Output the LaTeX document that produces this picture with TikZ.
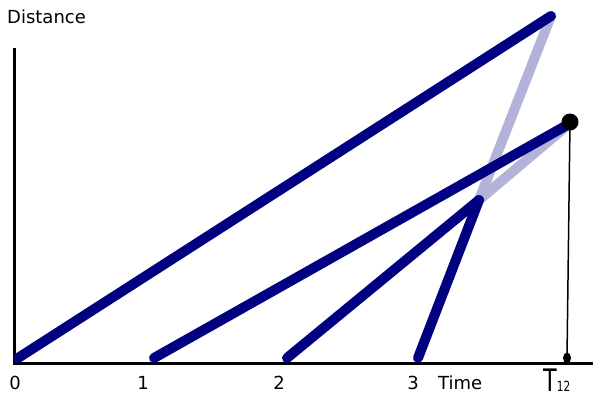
\documentclass[tikz,border=0pt]{standalone}
\usepackage{fontspec}
\usepackage{graphicx}
\setmainfont{DejaVu Sans}
\begin{document}
\begin{tikzpicture}[x=1pt,y=-1pt,
  axis/.style={line width=3pt},
  path/.style={line width=10pt,line cap=round,draw={rgb,255:red,0;green,0;blue,128}},
  ghost/.style={line width=10pt,line cap=round,draw={rgb,255:red,179;green,179;blue,217}},
  lbl/.style={font=\fontsize{18}{20}\selectfont,inner sep=0pt}]
\useasboundingbox (0,0) rectangle (600,400);
% axes
\coordinate (O) at (14,363);
\coordinate (ytop) at (14,48);
\coordinate (xend) at (593,363);
\draw[axis] (ytop) -- (O) -- (xend);
% points
\coordinate (s0) at (18,358);
\coordinate (s1) at (154,358);
\coordinate (s2) at (287,358);
\coordinate (s3) at (418,358);
\coordinate (m) at (479,200);
\coordinate (a) at (551,16);
\coordinate (b) at (569,124);
\coordinate (c) at (567,358);
% light paths
\draw[ghost] (m) -- (a);
\draw[ghost] (m) -- (b);
% navy paths
\draw[path] (s0) -- (a);
\draw[path] (s1) -- (b);
\draw[path] (s2) -- (m);
\draw[path] (s3) -- (m);
% T12 marker
\draw[line width=1.5pt] (570,122) -- (c);
\fill (570,122) circle (8.5);
\fill (c) ellipse (4 and 5.5);
% labels
\node[lbl,anchor=west] (dist) at (7,17) {Distance};
\node[lbl] (l0) at (15,383) {0};
\node[lbl] (l1) at (143,383) {1};
\node[lbl] (l2) at (279,383) {2};
\node[lbl] (l3) at (413,383) {3};
\node[lbl,anchor=west] (time) at (438,383) {Time};
\node[inner sep=0pt,anchor=base west] (T) at (543,391) {\scalebox{0.72}[1]{\fontsize{31}{32}\selectfont T}\scalebox{0.75}[1]{\fontsize{14}{14}\selectfont 12}};
\end{tikzpicture}
\end{document}
